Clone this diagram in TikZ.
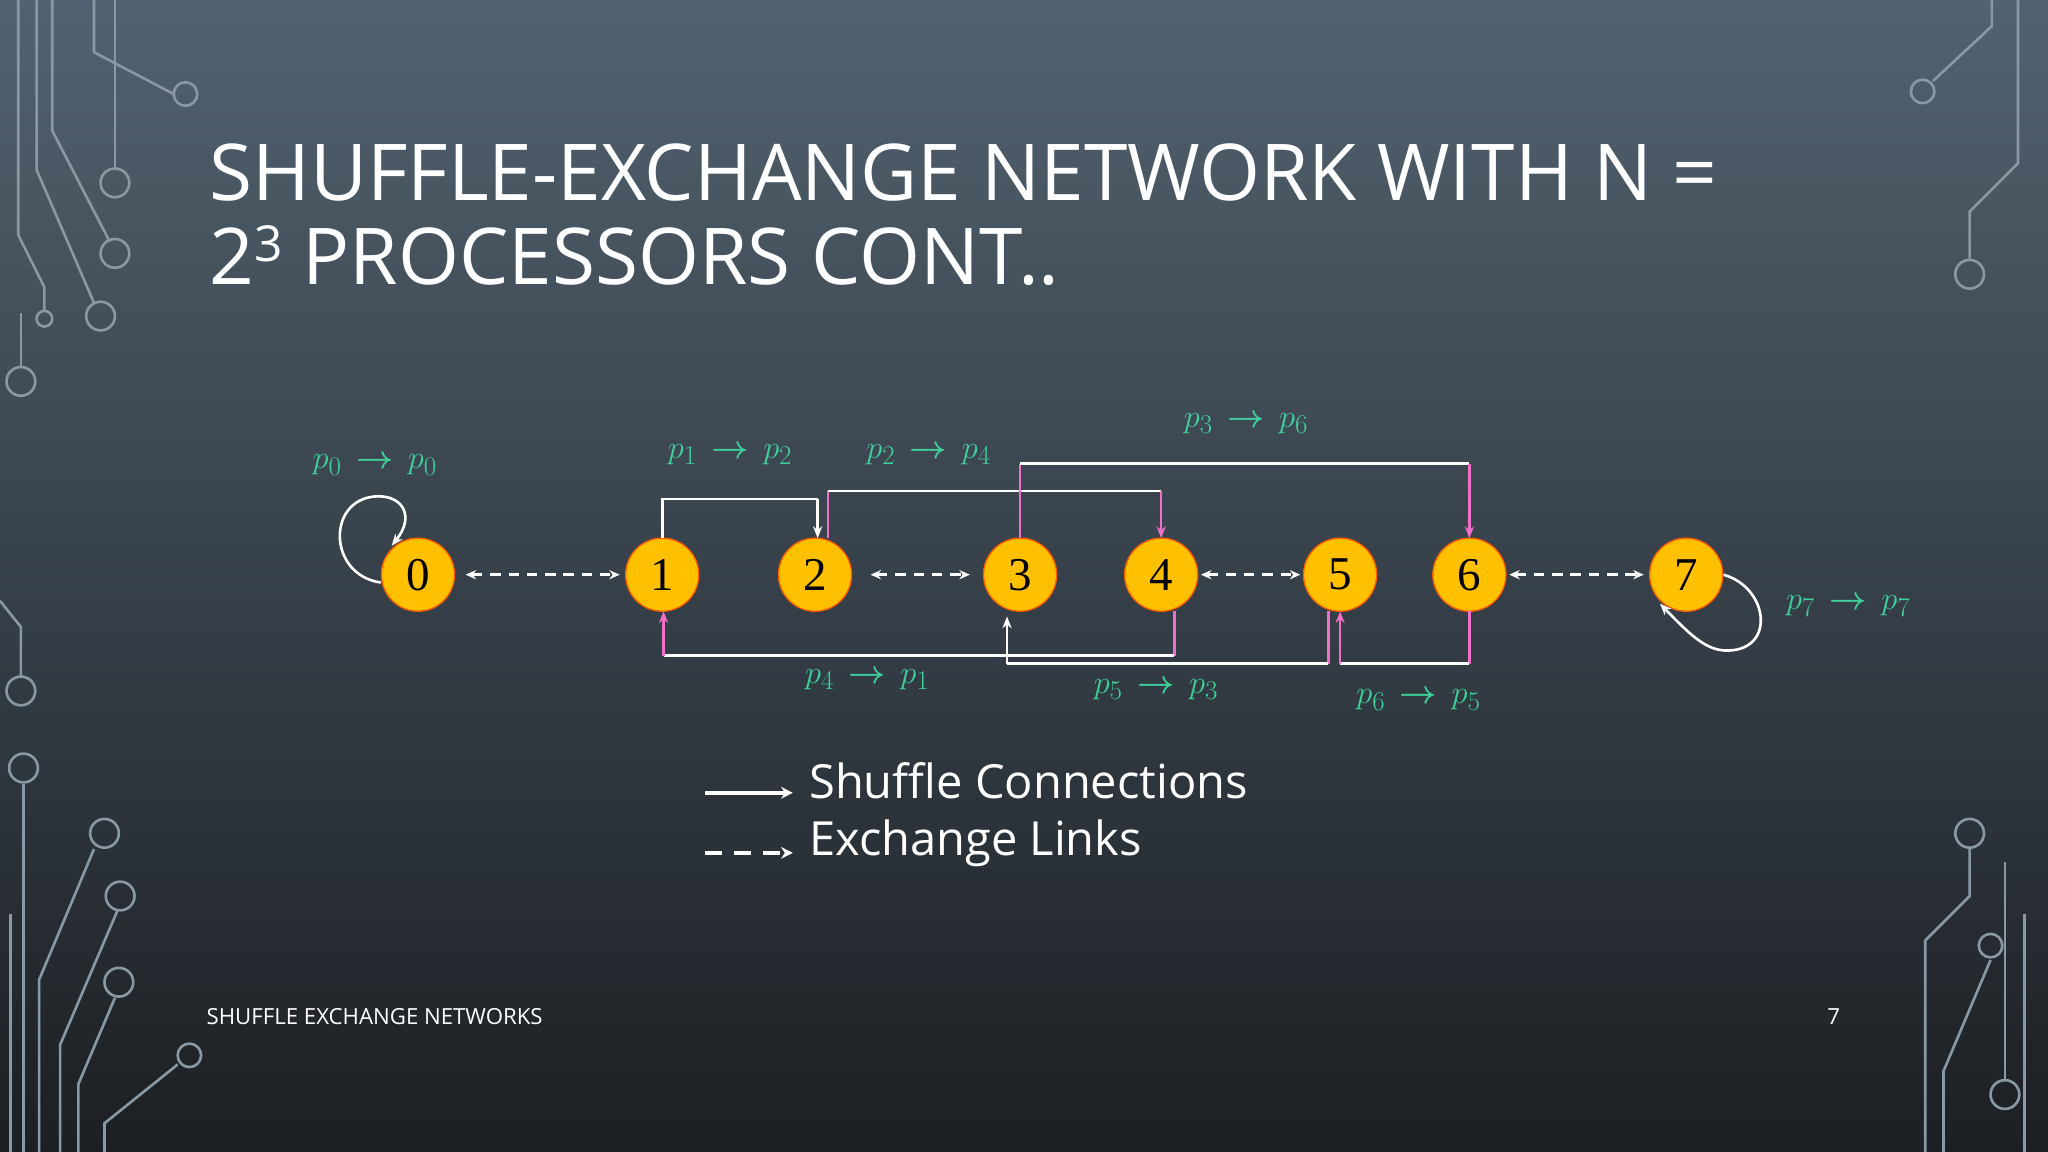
\documentclass[tikz,border=0pt]{standalone}
\usepackage{amsmath,amsbsy}
\usepackage{fontspec}
\setmainfont{Open Sans}
\newfontfamily\numfont{Liberation Serif}
\usetikzlibrary{arrows.meta}
\definecolor{lbl}{HTML}{3FD09A}
\definecolor{pk}{HTML}{F06FC8}
\definecolor{nd}{HTML}{FFC000}
\definecolor{circ}{HTML}{8A98A4}
\begin{document}
\begin{tikzpicture}[x=1pt,y=-1pt,
  pnode/.style={circle,fill=nd,draw=orange!70!red,line width=1pt,minimum size=56pt,inner sep=0pt,font=\numfont\fontsize{36}{36}\selectfont},
  wl/.style={white,line width=2pt},
  pl/.style={pk,line width=2pt},
  tip/.style={-{Stealth[length=9pt,width=7pt]}},
  xch/.style={white,line width=2pt,dashed,dash pattern=on 8pt off 6pt,{Stealth[length=8pt,width=7pt]}-{Stealth[length=8pt,width=7pt]}},
  lab/.style={lbl,font=\fontsize{30}{30}\selectfont},
  cl/.style={circ,line width=2pt}]
\fill[top color={rgb,255:red,82;green,98;blue,112}, bottom color={rgb,255:red,28;green,31;blue,35}] (0,0) rectangle (1568,882);
\useasboundingbox (0,0) rectangle (1568,882);
% circuit decorations
\draw[cl] (88,0)--(88,128); \draw[cl] (88,140) circle (11);
\draw[cl] (72,0)--(72,40)--(133,72); \draw[cl] (142,72) circle (9);
\draw[cl] (40,0)--(40,100)--(84,185); \draw[cl] (88,194) circle (11);
\draw[cl] (28,0)--(28,130)--(72,232); \draw[cl] (77,242) circle (11);
\draw[cl] (14,0)--(14,180)--(34,220)--(34,238); \draw[cl] (34,244) circle (6);
\draw[cl] (16,240)--(16,280); \draw[cl] (16,292) circle (11);
\draw[cl] (0,460)--(16,480)--(16,518); \draw[cl] (16,529) circle (11);
\draw[cl] (18,600)--(18,882); \draw[cl] (18,588) circle (11);
\draw[cl] (8,700)--(8,882);
\draw[cl] (72,650)--(30,750)--(30,882);
\draw[cl] (80,638) circle (11);
\draw[cl] (90,697)--(46,800)--(46,882); \draw[cl] (92,686) circle (11);
\draw[cl] (88,764)--(60,830)--(60,882); \draw[cl] (91,752) circle (11);
\draw[cl] (136,815)--(80,860)--(80,882); \draw[cl] (145,808) circle (9);
\draw[cl] (1525,0)--(1525,20)--(1480,62); \draw[cl] (1472,70) circle (9);
\draw[cl] (1545,0)--(1545,125)--(1508,162)--(1508,198); \draw[cl] (1508,210) circle (11);
\draw[cl] (1508,650)--(1508,686)--(1474,720)--(1474,882); \draw[cl] (1508,638) circle (11);
\draw[cl] (1524,735)--(1488,820)--(1488,882); \draw[cl] (1524,724) circle (9);
\draw[cl] (1535,660)--(1535,826); \draw[cl] (1535,838) circle (11);
\draw[cl] (1550,700)--(1550,882);
% title
\node[anchor=north west,white,align=left,font=\fontsize{60}{64}\selectfont,inner sep=0pt] (title) at (160,110)
  {SHUFFLE-EXCHANGE NETWORK WITH N =\\2\raisebox{0.55ex}{\fontsize{38}{38}\selectfont 3} PROCESSORS CONT..};
% nodes
\node[pnode] (n0) at (320,440) {0};
\node[pnode] (n1) at (507,440) {1};
\node[pnode] (n2) at (624,440) {2};
\node[pnode] (n3) at (781,440) {3};
\node[pnode] (n4) at (889,440) {4};
\node[pnode] (n5) at (1026,440) {5};
\node[pnode] (n6) at (1125,440) {6};
\node[pnode] (n7) at (1291,440) {7};
% exchange
\draw[xch] ([xshift=8pt]n0.east)--([xshift=-4pt]n1.west);
\draw[xch] ([xshift=14pt]n2.east)--([xshift=-10pt]n3.west);
\draw[xch] ([xshift=2pt]n4.east)--([xshift=-2pt]n5.west);
\draw[xch] ([xshift=2pt]n6.east)--([xshift=-4pt]n7.west);
% shuffle
\coordinate (a1) at (507,412); \coordinate (a2) at (507,382); \coordinate (a3) at (626,382); \coordinate (a4) at (626,412);
\draw[wl] (a1)--(a2)--(a3); \draw[wl,tip] (a3)--(a4);
\coordinate (b1) at (634,412); \coordinate (b2) at (634,376); \coordinate (b3) at (889,376); \coordinate (b4) at (889,412);
\draw[pl] (b1)--(b2); \draw[wl] (b2)--(b3); \draw[pl,tip] (b3)--(b4);
\coordinate (c1) at (781,412); \coordinate (c2) at (781,355); \coordinate (c3) at (1125,355); \coordinate (c4) at (1125,412);
\draw[pl] (c1)--(c2); \draw[wl] (c2)--(c3); \draw[pl,tip] (c3)--(c4);
\coordinate (d1) at (899,468); \coordinate (d2) at (899,502); \coordinate (d3) at (508,502); \coordinate (d4) at (508,468);
\draw[pl] (d1)--(d2); \draw[wl] (d2)--(d3); \draw[pl,tip] (d3)--(d4);
\coordinate (e1) at (1017,468); \coordinate (e2) at (1017,508); \coordinate (e3) at (771,508); \coordinate (e4) at (771,472);
\draw[pl] (e1)--(e2); \draw[wl] (e2)--(e3); \draw[wl,tip] (e3)--(e4);
\coordinate (f1) at (1125,468); \coordinate (f2) at (1125,508); \coordinate (f3) at (1026,508); \coordinate (f4) at (1026,468);
\draw[pl] (f1)--(f2); \draw[wl] (f2)--(f3); \draw[pl,tip] (f3)--(f4);
% self loops
\draw[wl,tip] ([yshift=-6pt]n0.west) .. controls (250,440) and (250,380) .. (290,380) .. controls (308,380) and (318,395) .. ([yshift=2pt]n0.north west);
\draw[wl,tip] ([yshift=0pt]n7.east) .. controls (1355,450) and (1360,500) .. (1320,498) .. controls (1305,497) and (1293,485) .. ([yshift=-2pt]n7.south west);
% labels
\node[lab] (L0) at (287,356) {$p_0\,\boldsymbol{\rightarrow}\,p_0$};
\node[lab] (L1) at (559,348) {$p_1\,\boldsymbol{\rightarrow}\,p_2$};
\node[lab] (L2) at (711,348) {$p_2\,\boldsymbol{\rightarrow}\,p_4$};
\node[lab] (L3) at (954,324) {$p_3\,\boldsymbol{\rightarrow}\,p_6$};
\node[lab] (L7) at (1415,464) {$p_7\,\boldsymbol{\rightarrow}\,p_7$};
\node[lab] (L4) at (664,520) {$p_4\,\boldsymbol{\rightarrow}\,p_1$};
\node[lab] (L5) at (885,528) {$p_5\,\boldsymbol{\rightarrow}\,p_3$};
\node[lab] (L6) at (1086,536) {$p_6\,\boldsymbol{\rightarrow}\,p_5$};
% legend
\coordinate (g1) at (540,607); \coordinate (g2) at (607,607);
\coordinate (h1) at (540,653); \coordinate (h2) at (607,653);
\draw[white,line width=3pt,-{Stealth[length=9pt,width=9pt]}] (g1)--(g2);
\draw[white,line width=3pt,dash pattern=on 13pt off 9pt,-{Stealth[length=9pt,width=9pt]}] (h1)--(h2);
\node[white,anchor=west,font=\fontsize{36}{36}\selectfont] (s1) at (616,598) {Shuffle Connections};
\node[white,anchor=west,font=\fontsize{36}{36}\selectfont] (s2) at (616,646) {Exchange Links};
% footer
\node[white,anchor=west,font=\fontsize{17}{17}\selectfont,inner sep=0pt] (ft) at (158,778) {SHUFFLE EXCHANGE NETWORKS};
\node[white,font=\fontsize{17}{17}\selectfont,inner sep=0pt] (pg) at (1404,778) {7};
\end{tikzpicture}
\end{document}
